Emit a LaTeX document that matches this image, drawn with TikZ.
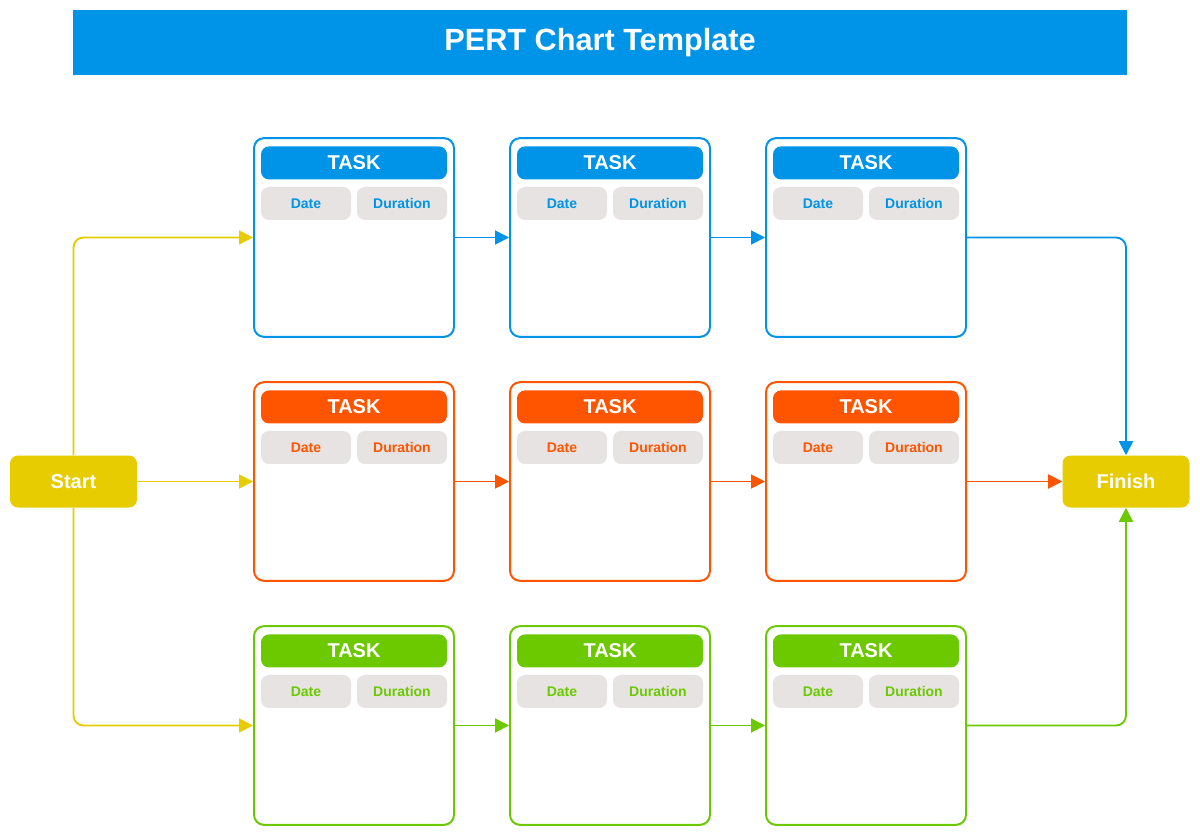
\documentclass[tikz,border=0pt]{standalone}
\usepackage{fontspec}
\setmainfont{Liberation Sans}
\usepackage{tikz}
\usetikzlibrary{positioning, arrows.meta}
\definecolor{pblue}{HTML}{0094E8}
\definecolor{porange}{HTML}{FF5500}
\definecolor{pgreen}{HTML}{6CC900}
\definecolor{pyellow}{HTML}{E6CC00}
\definecolor{pgrey}{HTML}{E6E3E2}
\tikzset{
	taskbox/.style={draw=#1, line width=1.5pt, fill=white, rounded corners=7.5pt,
		minimum width=150pt, minimum height=149pt, inner sep=0pt}
}
\tikzset{
	taskhead/.style={fill=#1, rounded corners=6pt, minimum width=139.5pt,
		minimum height=24.75pt, inner sep=0pt, text=white, font=\fontsize{15}{15}\bfseries}
}
\tikzset{
	infopill/.style={fill=pgrey, rounded corners=6pt, minimum width=67.5pt,
		minimum height=24.75pt, inner sep=0pt, text=#1, font=\fontsize{10.5}{10.5}\bfseries}
}
\tikzset{
	endbox/.style={fill=pyellow, rounded corners=6pt, minimum width=95.25pt,
		minimum height=39pt, inner sep=0pt, text=white, font=\fontsize{15}{15}\bfseries}
}
\tikzset{
	conn/.style={draw=#1, line width=1.4pt, rounded corners=7.5pt,
		-{Triangle[length=10.5pt,width=10.5pt]}}
}
\newcommand{\tasktext}[1]{#1}

\begin{document}
\begin{tikzpicture}[x=0.75pt, y=-0.75pt]
      \useasboundingbox (0,0) rectangle (1200,834);
      \node[fill=pblue, minimum width=790.5pt, minimum height=48.75pt, inner sep=0pt,
        text=white, font=\fontsize{23}{23}\bfseries] (title) at (600,42.5) {PERT Chart Template};
      \node[endbox] (start) at (73.5,481.5) {Start};
      \node[endbox] (finish) at (1126,481.5) {Finish};
      \foreach \r/\col/\y in {1/pblue/237.5, 2/porange/481.5, 3/pgreen/725.5}
        \foreach \c/\x in {1/354, 2/610, 3/866} {
          \node[taskbox=\col] (t\r\c) at (\x,\y) {};
          \node[taskhead=\col, below=6.75pt of t\r\c.north] (h\r\c) {\tasktext{TASK}};
          \node[infopill=\col, below right=5.25pt and 0pt of h\r\c.south west, anchor=north west] (d\r\c) {Date};
          \node[infopill=\col, below left=5.25pt and 0pt of h\r\c.south east, anchor=north east] (u\r\c) {Duration};
        }
      \foreach \r/\col in {1/pblue, 2/porange, 3/pgreen}
        \foreach \a/\b in {1/2, 2/3}
          \draw[conn=\col] (t\r\a) -- (t\r\b);
      \draw[conn=pyellow] (start.north) |- (t11.west);
      \draw[conn=pyellow] (start.east) -- (t21.west);
      \draw[conn=pyellow] (start.south) |- (t31.west);
      \draw[conn=pblue] (t13.east) -| (finish.north);
      \draw[conn=porange] (t23.east) -- (finish.west);
      \draw[conn=pgreen] (t33.east) -| (finish.south);
    \end{tikzpicture}
\end{document}
